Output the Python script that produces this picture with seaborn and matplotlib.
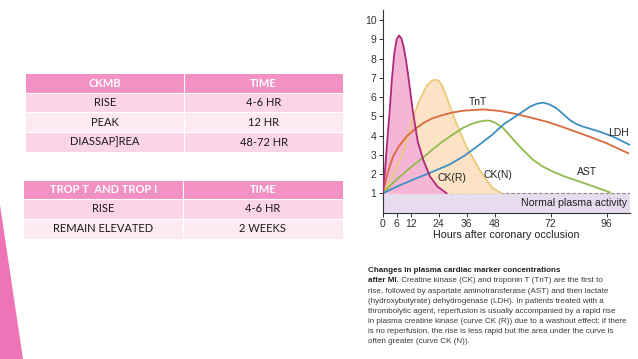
import matplotlib
matplotlib.use("Agg")
import matplotlib.pyplot as plt
import seaborn as sns
from matplotlib.patches import Rectangle, Polygon

# ---- table data ----
ckmb_header = ["CKMB", "TIME"]
ckmb_rows = ["RISE", "PEAK", "DIASSAP]REA"]
ckmb_times = ["4-6 HR", "12 HR", "48-72 HR"]
trop_header = ["TROP T  AND TROP I", "TIME"]
trop_rows = ["RISE", "REMAIN ELEVATED"]
trop_times = ["4-6 HR", "2 WEEKS"]

# ---- curve data (hours after occlusion, relative activity) ----
ckr_h = [0, 1, 2, 3, 4, 5, 6, 7, 8, 9, 10, 11, 13, 15, 17.4, 20.3, 23.5, 27.4]
ckr_v = [1, 2.2, 3.8, 5.3, 7.0, 8.3, 9.0, 9.2, 9.05, 8.6, 7.9, 7.05, 5.2, 3.7, 2.73, 1.87, 1.35, 1.0]
ckn_h = [0, 4, 8, 11, 13.5, 16, 19, 21, 22.4, 24, 25.5, 27.4, 29.5, 31.7, 36, 41.7, 45, 47.4, 51]
ckn_v = [1, 1.8, 2.9, 4.0, 5.1, 5.9, 6.6, 6.85, 6.9, 6.85, 6.6, 6.0, 5.3, 4.6, 3.4, 2.2, 1.6, 1.26, 1.0]
tnt_h = [0, 2, 4.4, 7, 10.1, 13.5, 17.3, 21, 25.8, 30, 34.4, 43, 50, 56, 63, 70.3, 77, 84.6, 90, 96, 105.3]
tnt_v = [1, 2.0, 2.9, 3.45, 3.94, 4.3, 4.64, 4.88, 5.07, 5.2, 5.29, 5.36, 5.28, 5.15, 4.95, 4.72, 4.45,
         4.12, 3.88, 3.6, 3.08]
ast_h = [0, 4, 8.7, 13, 17.3, 21.5, 25.8, 30, 34.4, 38, 41.6, 44, 46, 48.5, 51.7, 54.5, 57.4, 61,
         64.6, 68.5, 73.1, 78.5, 84.6, 91, 97.4]
ast_v = [1, 1.5, 2.0, 2.45, 2.85, 3.3, 3.7, 4.05, 4.4, 4.6, 4.73, 4.78, 4.77, 4.65, 4.38, 4.0, 3.6,
         3.15, 2.73, 2.4, 2.12, 1.85, 1.6, 1.33, 1.05]
ldh_h = [0, 7, 14.4, 21, 28.7, 35, 41.7, 47, 52, 58.9, 63.1, 66, 68.8, 71.5, 74.6, 77.5, 80.3, 83,
         86, 93.1, 98.8, 106]
ldh_v = [1, 1.4, 1.78, 2.1, 2.5, 2.95, 3.55, 4.05, 4.6, 5.15, 5.5, 5.65, 5.71, 5.62, 5.41, 5.1, 4.8,
         4.6, 4.46, 4.2, 3.94, 3.51]

x_ticks = [0, 6, 12, 24, 36, 48, 72, 96]
y_ticks = [1, 2, 3, 4, 5, 6, 7, 8, 9, 10]

curve_labels = ["TnT", "LDH", "AST", "CK(N)", "CK(R)"]
label_pos = [(41, 5.76), (101, 4.15), (87.7, 2.12), (49.6, 1.95), (29.6, 1.78)]

caption_bold = "Changes in plasma cardiac marker concentrations"
caption_bold2 = "after MI."
caption_lines = [
    "Creatine kinase (CK) and troponin T (TnT) are the first to",
    "rise, followed by aspartate aminotransferase (AST) and then lactate",
    "(hydroxybutyrate) dehydrogenase (LDH). In patients treated with a",
    "thrombolytic agent, reperfusion is usually accompanied by a rapid rise",
    "in plasma creatine kinase (curve CK (R)) due to a washout effect; if there",
    "is no reperfusion, the rise is less rapid but the area under the curve is",
    "often greater (curve CK (N)).",
]

sns.set_style("ticks")
plt.rcParams['font.family'] = ['Liberation Sans', 'DejaVu Sans']

W, H = 638, 359
fig = plt.figure(figsize=(W / 100, H / 100), dpi=100)

# ---- background layer in pixel coordinates ----
bg = fig.add_axes([0, 0, 1, 1])
bg.set_xlim(0, W)
bg.set_ylim(H, 0)
bg.axis("off")

# pink wedge at left bottom
bg.add_patch(Polygon([(0, 205), (0, H), (23, H)], closed=True, color="#ee74b5", lw=0))

header_col = "#f291c4"
row_cols = ["#fbd5e7", "#fde9f2"]
tfont = ['Lato', 'DejaVu Sans']


def draw_table(top, header, names, times, x0=26, x1=343, xm=184, hh=18.5, rh=19.8):
    bg.add_patch(Rectangle((x0, top), x1 - x0, hh, color=header_col, lw=0))
    bg.text((x0 + xm) / 2, top + hh / 2, header[0], ha="center", va="center",
            color="white", fontsize=8, family=tfont, fontweight="bold")
    bg.text((xm + x1) / 2, top + hh / 2, header[1], ha="center", va="center",
            color="white", fontsize=8, family=tfont, fontweight="bold")
    y = top + hh
    for i, (n, t) in enumerate(zip(names, times)):
        bg.add_patch(Rectangle((x0, y), x1 - x0, rh, color=row_cols[i % 2], lw=0))
        bg.text((x0 + xm) / 2, y + rh / 2, n, ha="center", va="center",
                color="#1a1a1a", fontsize=8, family=tfont)
        bg.text((xm + x1) / 2, y + rh / 2, t, ha="center", va="center",
                color="#1a1a1a", fontsize=8, family=tfont)
        bg.plot([x0, x1], [y, y], color="white", lw=0.8)
        y += rh
    bg.plot([xm, xm], [top, y], color="white", lw=0.8)


draw_table(74, ckmb_header, ckmb_rows, ckmb_times)
draw_table(180.5, trop_header, trop_rows, trop_times, x0=24, xm=182.5)

# ---- chart ----
ax_l, ax_r = 382.7, 630
ax_b, ax_t = 212.6, 10.4
ax = fig.add_axes([ax_l / W, (H - ax_b) / H, (ax_r - ax_l) / W, (ax_b - ax_t) / H])
ax.set_facecolor("none")
xmax = 106

ax.fill_between([0, xmax], 0, 1, color="#e6dcee", lw=0, zorder=0)
ax.axhline(1, color="#8a8a8a", lw=0.8, ls=(0, (3, 2)), zorder=1)

ax.fill_between(ckn_h, 1, ckn_v, color="#fde3c6", lw=0, zorder=1)
ax.fill_between(ckr_h, 1, ckr_v, color="#f5b6d6", lw=0, zorder=1.5)

sns.lineplot(x=ckn_h, y=ckn_v, ax=ax, color="#e9c97a", lw=1.3, zorder=2)
sns.lineplot(x=ckr_h, y=ckr_v, ax=ax, color="#b0287c", lw=1.3, zorder=3)
sns.lineplot(x=tnt_h, y=tnt_v, ax=ax, color="#d86a3c", lw=1.3, zorder=2)
sns.lineplot(x=ast_h, y=ast_v, ax=ax, color="#8fba4e", lw=1.3, zorder=2)
sns.lineplot(x=ldh_h, y=ldh_v, ax=ax, color="#3f8fc2", lw=1.3, zorder=2)

for lab, (lx, ly) in zip(curve_labels, label_pos):
    ax.text(lx, ly, lab, ha="center", va="center", fontsize=7.5, color="#222222")
ax.text(104.5, 0.5, "Normal plasma activity", ha="right", va="center",
        fontsize=7.6, color="#222222")

ax.set_xlim(0, xmax)
ax.set_ylim(0, 10.5)
ax.set_xticks(x_ticks)
ax.set_yticks(y_ticks)
ax.tick_params(labelsize=7.5, length=3, width=0.7, colors="#333333", pad=1.5)
for s in ["top", "right"]:
    ax.spines[s].set_visible(False)
for s in ["left", "bottom"]:
    ax.spines[s].set_linewidth(0.8)
    ax.spines[s].set_color("#333333")
ax.set_xlabel("Hours after coronary occlusion", fontsize=7.7, color="#222222", labelpad=1)
ax.set_ylabel("")

# ---- caption: size fonts so line widths match the reference ----
fig.canvas.draw()
rend = fig.canvas.get_renderer()
probe_b = bg.text(0, 0, caption_bold, fontsize=7, fontweight="bold")
probe_r = bg.text(0, 0, caption_lines[1], fontsize=7)
fs_b = 7 * 193 / probe_b.get_window_extent(rend).width
fs_r = 7 * 240 / probe_r.get_window_extent(rend).width
probe_b.remove()
probe_r.remove()

x_cap = 368
bg.text(x_cap, 270, caption_bold, ha="left", va="center", fontsize=fs_b,
        fontweight="bold", color="#222222")
b2 = bg.text(x_cap, 280.7, caption_bold2, ha="left", va="center", fontsize=fs_b,
             fontweight="bold", color="#222222")
bg.annotate(" " + caption_lines[0], xy=(1, 0.5), xycoords=b2, ha="left", va="center",
            fontsize=fs_r, color="#3a3a3a")
for i, line in enumerate(caption_lines[1:]):
    bg.text(x_cap, 291.7 + 10 * i, line, ha="left", va="center", fontsize=fs_r,
            color="#3a3a3a")

fig.savefig("out.png", dpi=100)
